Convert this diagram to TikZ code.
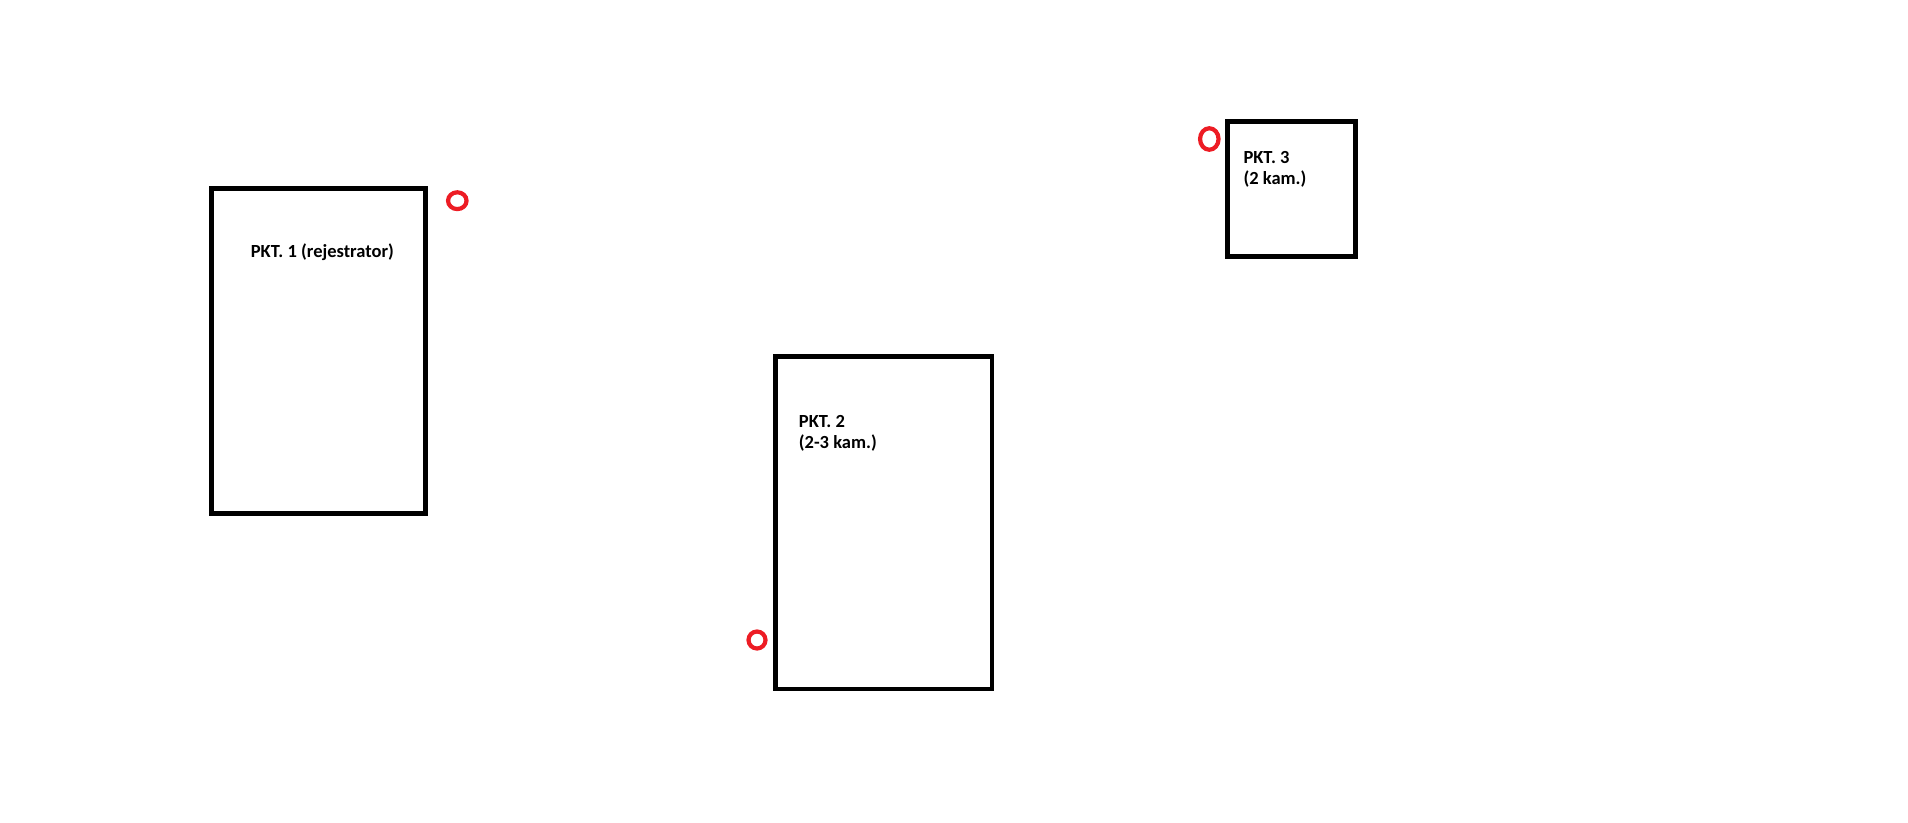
\documentclass[tikz,border=0pt]{standalone}
\usepackage{fontspec}
\setmainfont{Carlito}
\usetikzlibrary{shapes.geometric}
\definecolor{pred}{HTML}{ED1C24}
\tikzset{
  pbox/.style={draw=black, line width=4.7pt, rectangle, inner sep=0pt},
  ring/.style={draw=pred, line width=4.2pt, ellipse, inner sep=0pt},
  lbl/.style={anchor=base west, inner sep=0pt, font=\fontsize{18.5}{21}\selectfont\bfseries}
}
\begin{document}
\begin{tikzpicture}[x=1pt,y=-1pt]
\useasboundingbox[fill=white] (0,0) rectangle (1908,822);
% boxes
\node[pbox, minimum width=213.6pt, minimum height=325pt] (b1) at (318.5,350.8) {};
\node[pbox, minimum width=216.3pt, minimum height=332.3pt] (b2) at (883.8,522.8) {};
\node[pbox, minimum width=128pt, minimum height=135pt] (b3) at (1291.3,188.8) {};
% rings
\node[ring, minimum width=18.5pt, minimum height=16.8pt] (c1) at (457.3,200.7) {};
\node[ring, minimum width=17pt, minimum height=17pt] (c2) at (757,640) {};
\node[ring, minimum width=18.5pt, minimum height=21.5pt] (c3) at (1209.3,139) {};
% labels
\node[lbl] (t1) at (250.7,257) {PKT. 1 (rejestrator)};
\node[lbl] (t2a) at (798.7,427.3) {PKT. 2};
\node[lbl] (t2b) at (798.7,448) {(2-3 kam.)};
\node[lbl] (t3a) at (1243.3,163.3) {PKT. 3};
\node[lbl] (t3b) at (1243.3,184) {(2 kam.)};
\end{tikzpicture}
\end{document}
